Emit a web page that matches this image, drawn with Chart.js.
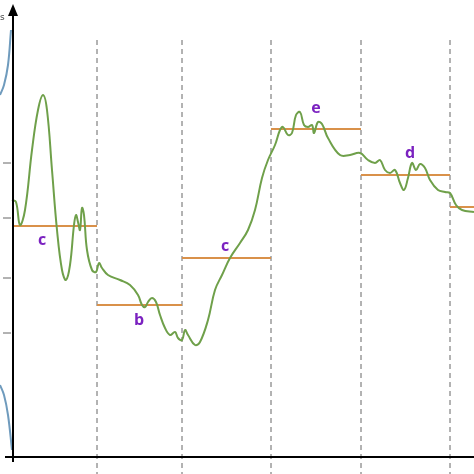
<!DOCTYPE html>
<html>
<head>
<meta charset="utf-8">
<script src="https://cdn.jsdelivr.net/npm/chart.js@4.4.0/dist/chart.umd.min.js"></script>
<style>
  html, body { margin: 0; padding: 0; background: #fff; }
  #wrap { width: 474px; height: 474px; }
</style>
</head>
<body>
<div id="wrap"><canvas id="c"></canvas></div>
<script>
// signal, x / y in plot units (y grows downward)
const signalX = [12,16,20,25,32,38,43,47,52,57,62,66,70,74,76,78,80,82,84,87,92,96,99,102,108,120,130,138,142,145,148,152,156,160,165,170,175,178,182,185,188,195,200,208,215,222,230,240,248,255,262,268,275,280,283,288,292,296,300,304,308,312,314,318,322,328,340,350,360,368,375,380,385,390,395,400,404,408,412,416,420,425,430,438,445,450,456,462,474];
const signalY = [200,202,225,210,150,110,95,110,170,230,270,280,265,225,215,222,230,208,215,250,270,272,263,268,275,280,285,295,305,307,302,298,302,315,328,335,332,338,340,330,335,345,342,320,290,275,258,243,230,210,178,160,145,130,127,135,133,115,112,125,127,125,133,122,124,138,155,155,153,160,163,160,170,173,170,183,190,178,163,170,164,168,180,190,192,193,205,210,212];
const edgeTopX = [0,4,8,11];
const edgeTopY = [95,85,65,30];
const edgeBotX = [0,4,8,12];
const edgeBotY = [385,395,415,450];
const segStart = [12,97,182,271,361,450];
const segEnd = [97,182,271,361,450,474];
const segLevel = [226,305,258,129,175,207];
const segLabels = ['c','b','c','e','d',''];
const labelX = [42,139,225,316,410];
const labelY = [240,320,246,108,153];
const dividers = [97,182,271,361,450];
const axisTicks = [163,218,278,333];

const pts = (xs, ys) => xs.map((x, i) => ({ x: x, y: ys[i] }));

const datasets = [
  { data: pts(signalX, signalY), borderColor: '#6fa04a', borderWidth: 2, tension: 0.4 },
  { data: pts(edgeTopX, edgeTopY), borderColor: '#6f9bbd', borderWidth: 2, tension: 0.4 },
  { data: pts(edgeBotX, edgeBotY), borderColor: '#6f9bbd', borderWidth: 2, tension: 0.4 }
];
segStart.forEach((s, i) => {
  datasets.push({
    data: [{ x: s, y: segLevel[i] }, { x: segEnd[i], y: segLevel[i] }],
    borderColor: '#d9914a', borderWidth: 2, tension: 0
  });
});

const decor = {
  id: 'decor',
  beforeDatasetsDraw(chart) {
    const { ctx, scales: { x, y } } = chart;
    ctx.save();
    ctx.strokeStyle = '#666';
    ctx.lineWidth = 1;
    ctx.setLineDash([5, 4]);
    dividers.forEach(d => {
      ctx.beginPath();
      ctx.moveTo(x.getPixelForValue(d), y.getPixelForValue(40));
      ctx.lineTo(x.getPixelForValue(d), y.getPixelForValue(474));
      ctx.stroke();
    });
    ctx.setLineDash([]);
    axisTicks.forEach(t => {
      ctx.beginPath();
      ctx.moveTo(x.getPixelForValue(3), y.getPixelForValue(t));
      ctx.lineTo(x.getPixelForValue(11), y.getPixelForValue(t));
      ctx.stroke();
    });
    ctx.restore();
  },
  afterDatasetsDraw(chart) {
    const { ctx, scales: { x, y } } = chart;
    ctx.save();
    ctx.strokeStyle = '#000';
    ctx.lineWidth = 2;
    ctx.beginPath();
    ctx.moveTo(x.getPixelForValue(13), y.getPixelForValue(462));
    ctx.lineTo(x.getPixelForValue(13), y.getPixelForValue(10));
    ctx.moveTo(x.getPixelForValue(5), y.getPixelForValue(457));
    ctx.lineTo(x.getPixelForValue(474), y.getPixelForValue(457));
    ctx.stroke();
    ctx.fillStyle = '#000';
    ctx.beginPath();
    ctx.moveTo(x.getPixelForValue(13), y.getPixelForValue(4));
    ctx.lineTo(x.getPixelForValue(8), y.getPixelForValue(16));
    ctx.lineTo(x.getPixelForValue(18), y.getPixelForValue(16));
    ctx.closePath();
    ctx.fill();
    ctx.font = '9px "DejaVu Sans"';
    ctx.fillStyle = '#444';
    ctx.fillText('s', 0, 20);
    ctx.font = 'bold 16px "Open Sans"';
    ctx.fillStyle = '#7b22c0';
    ctx.textAlign = 'center';
    ctx.textBaseline = 'middle';
    labelX.forEach((lx, i) => {
      ctx.fillText(segLabels[i], x.getPixelForValue(lx), y.getPixelForValue(labelY[i]));
    });
    ctx.restore();
  }
};

new Chart(document.getElementById('c'), {
  type: 'line',
  data: { datasets: datasets },
  options: {
    responsive: true,
    maintainAspectRatio: false,
    animation: false,
    layout: { padding: 0 },
    elements: { point: { radius: 0 } },
    plugins: { legend: { display: false }, tooltip: { enabled: false } },
    scales: {
      x: { type: 'linear', display: false, min: 0, max: 474 },
      y: { type: 'linear', display: false, min: 0, max: 474, reverse: true }
    }
  },
  plugins: [decor]
});
</script>
</body>
</html>
